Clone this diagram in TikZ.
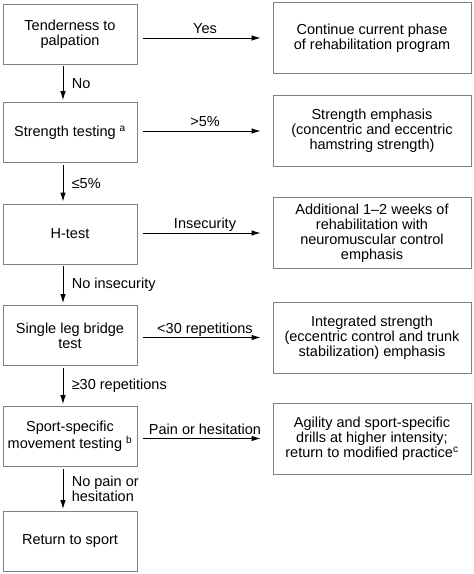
\documentclass[tikz,border=0pt]{standalone}
\usepackage{fontspec}
\setmainfont{Liberation Sans}
\usetikzlibrary{arrows.meta}

\begin{document}
\begin{tikzpicture}[x=1pt,y=-1pt,
  every node/.style={font=\fontsize{14.5}{15}\selectfont},
  testbox/.style={rectangle,draw=black!50,line width=0.8pt,minimum width=134pt,minimum height=60pt,align=center},
  outcome/.style={rectangle,draw=black!50,line width=0.8pt,minimum width=198pt,minimum height=71pt,align=center},
  flow/.style={-{Latex[length=9pt,width=5.5pt]},line width=0.9pt,shorten <=2pt,shorten >=2pt},
  side/.style={shorten <=6pt,shorten >=12pt}
]
\useasboundingbox (0,0) rectangle (474,574);

\node[testbox] (tender) at (70,34) {Tenderness to\\palpation};
\node[testbox] (strength) at (70,132.5) {Strength testing \textsuperscript{a}};
\node[testbox] (htest) at (70,234) {H-test};
\node[testbox] (bridge) at (70,335.5) {Single leg bridge\\test};
\node[testbox] (sport) at (70,436.5) {Sport-specific\\movement testing \textsuperscript{b}};
\node[testbox] (return) at (70,541.5) {Return to sport};

\node[outcome] (continue) at (372,38) {Continue current phase\\of rehabilitation program};
\node[outcome] (emphasis) at (372,131) {Strength emphasis\\(concentric and eccentric\\hamstring strength)};
\node[outcome] (weeks) at (372,233) {Additional 1–2 weeks of\\rehabilitation with\\neuromuscular control\\emphasis};
\node[outcome] (integrated) at (372,337.5) {Integrated strength\\(eccentric control and trunk\\stabilization) emphasis};
\node[outcome] (agility) at (372,438.5) {Agility and sport-specific\\drills at higher intensity;\\return to modified practice\textsuperscript{c}};

\draw[flow,side] (tender.east |- continue.west) -- (continue.west) node[midway,anchor=base,yshift=4.5pt] {Yes};
\draw[flow,side] (strength.east |- emphasis.west) -- (emphasis.west) node[midway,anchor=base,yshift=4.5pt] {>5\%};
\draw[flow,side] (htest.east |- weeks.west) -- (weeks.west) node[midway,anchor=base,yshift=4.5pt] {Insecurity};
\draw[flow,side] (bridge.east |- integrated.west) -- (integrated.west) node[midway,anchor=base,yshift=4.5pt] {<30 repetitions};
\draw[flow,side] (sport.east |- agility.west) -- (agility.west) node[midway,anchor=base,yshift=4.5pt] {Pain or hesitation};

\draw[flow] ([xshift=-7pt]tender.south) -- ([xshift=-7pt]strength.north) node[midway,right=5pt] {No};
\draw[flow] ([xshift=-7pt]strength.south) -- ([xshift=-7pt]htest.north) node[midway,right=5pt] {≤5\%};
\draw[flow] ([xshift=-7pt]htest.south) -- ([xshift=-7pt]bridge.north) node[midway,right=5pt] {No insecurity};
\draw[flow] ([xshift=-7pt]bridge.south) -- ([xshift=-7pt]sport.north) node[midway,right=5pt] {≥30 repetitions};
\draw[flow] ([xshift=-7pt]sport.south) -- ([xshift=-7pt]return.north) node[midway,right=5pt,align=left] {No pain or\\hesitation};

\end{tikzpicture}
\end{document}
